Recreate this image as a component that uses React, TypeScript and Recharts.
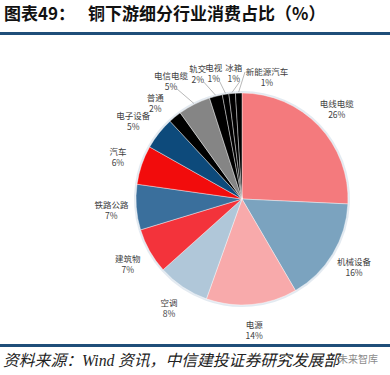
import { PieChart, Pie, Cell } from 'recharts'

const categories = ['电线电缆', '机械设备', '电源', '空调', '建筑物', '铁路公路', '汽车', '电子设备', '普通', '电信电缆', '轨交', '电视', '冰箱', '新能源汽车']
const shares = [26, 16, 14, 8, 7, 7, 6, 5, 2, 5, 2, 1, 1, 1]
const colors = ['#F47A7D', '#7BA3BF', '#F8AAAB', '#B0C7D9', '#F3333B', '#3A6F9C', '#F20C0C', '#0D4A7B', '#000000', '#858585', '#000000', '#000000', '#000000', '#000000']

const data = categories.map((name, i) => ({ name, value: shares[i] }))

const CX = 242
const CY = 199
const R = 106
const RAD = Math.PI / 180
const font = '"Noto Sans CJK SC", "Noto Sans", sans-serif'

// crowded labels near the top get shifted; the thinnest ones also get a leader line
const shift: Record<string, [number, number]> = {
  电子设备: [-6, 3],
  普通: [-4, 5],
  电信电缆: [-12, -2],
  轨交: [-12, 1],
  电视: [-8, 3],
  冰箱: [4, 4],
  新能源汽车: [29, 8],
}
const withLine = ['电信电缆', '轨交', '电视', '冰箱', '新能源汽车']

function SliceLabel(props: any) {
  const { midAngle, index } = props
  const name = categories[index]
  const cos = Math.cos(-midAngle * RAD)
  const sin = Math.sin(-midAngle * RAD)
  const [dx, dy] = shift[name] ?? [0, 0]
  const x = CX + (R + 25) * cos + dx
  const y = CY + (R + 25) * sin + dy
  const ex = CX + (R + 1) * cos
  const ey = CY + (R + 1) * sin
  const lineEnd = dx > 10 ? [x - 22, y - 4] : [x + 6, y + 9]
  return (
    <g>
      {withLine.includes(name) && (
        <polyline
          points={`${ex},${ey} ${lineEnd[0]},${lineEnd[1]}`}
          fill="none"
          stroke="#9a9a9a"
          strokeWidth={0.7}
        />
      )}
      <text x={x} y={y - 5.5} textAnchor="middle" dominantBaseline="central" fontSize={8.5} fill="#404040" fontFamily={font}>
        {name}
      </text>
      <text x={x} y={y + 5.5} textAnchor="middle" dominantBaseline="central" fontSize={8.5} fill="#404040" fontFamily={font}>
        {shares[index]}%
      </text>
    </g>
  )
}

export default function App() {
  return (
    <div style={{ position: 'absolute', left: 0, top: 0, width: 390, height: 375, background: '#fff', overflow: 'hidden' }}>
      <div style={{ position: 'absolute', left: 4, top: 2, fontFamily: font, fontWeight: 700, fontSize: 17, color: '#111', whiteSpace: 'nowrap', lineHeight: '22px' }}>
        图表49：
        <span style={{ marginLeft: 13 }}>铜下游细分行业消费占比（%）</span>
      </div>
      <div style={{ position: 'absolute', left: 0, top: 32, width: 390, height: 3, background: '#1F4E79' }} />

      <div style={{ position: 'absolute', left: 0, top: 0 }}>
        <PieChart width={390} height={375} margin={{ top: 0, right: 0, bottom: 0, left: 0 }}>
          <Pie
            data={data}
            dataKey="value"
            cx={CX}
            cy={CY}
            outerRadius={R + 2}
            startAngle={90}
            endAngle={-270}
            fill="#e3eaf1"
            stroke="none"
            isAnimationActive={false}
          />
          <Pie
            data={data}
            dataKey="value"
            nameKey="name"
            cx={CX}
            cy={CY}
            outerRadius={R}
            startAngle={90}
            endAngle={-270}
            stroke="#ffffff"
            strokeWidth={0.4}
            label={SliceLabel}
            labelLine={false}
            isAnimationActive={false}
          >
            {data.map((d, i) => (
              <Cell key={d.name} fill={colors[i]} />
            ))}
          </Pie>
        </PieChart>
      </div>

      <div style={{ position: 'absolute', left: 0, top: 344, width: 390, height: 3, background: '#1F4E79' }} />
      <div style={{ position: 'absolute', left: 3, top: 349, fontFamily: font, fontStyle: 'italic', fontSize: 15.8, color: '#222', whiteSpace: 'nowrap', lineHeight: '22px' }}>
        资料来源：<span style={{ fontFamily: '"Liberation Serif", serif' }}>Wind</span> 资讯，中信建投证券研究发展部
      </div>
      <div style={{ position: 'absolute', left: 338, top: 352, fontFamily: font, fontSize: 10, color: '#8a8a8a', whiteSpace: 'nowrap', lineHeight: '14px' }}>
        未来智库
      </div>
    </div>
  )
}
